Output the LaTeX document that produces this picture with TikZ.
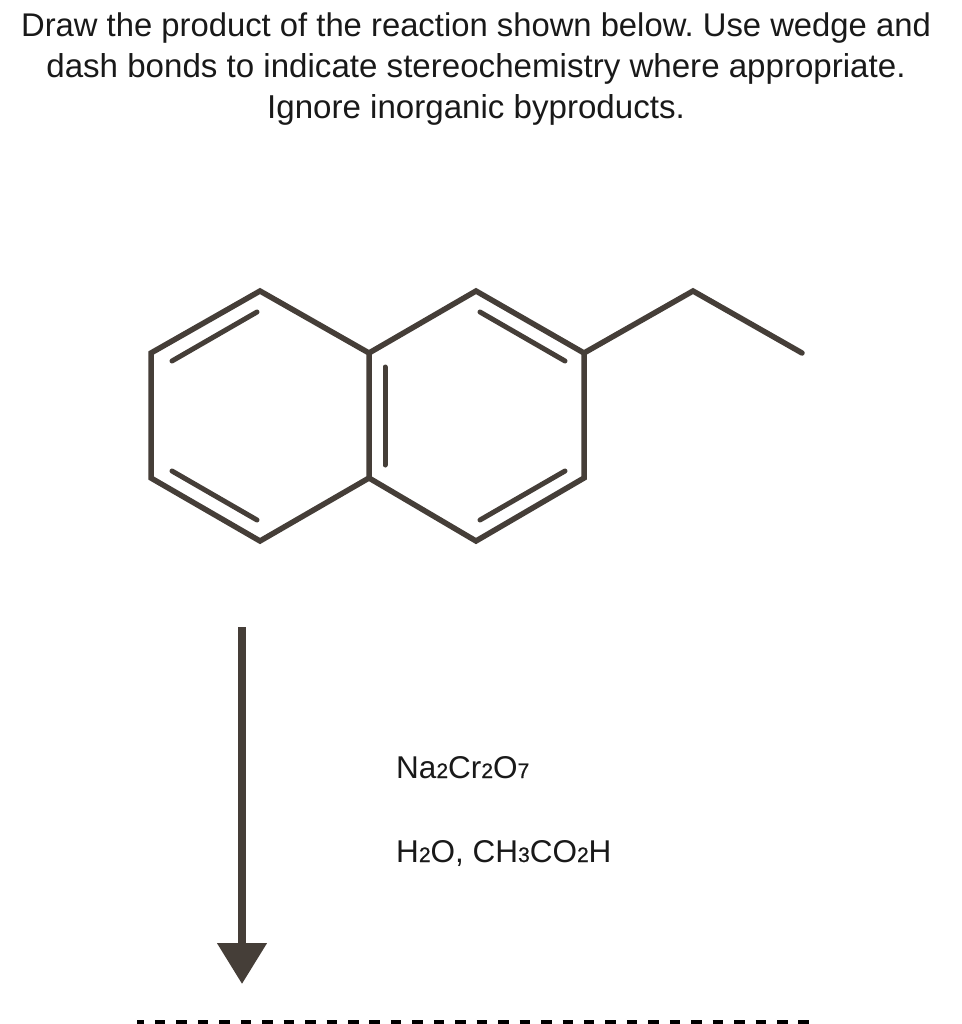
\documentclass[tikz,border=0pt]{standalone}
\usepackage{fontspec}
\setmainfont{Liberation Sans}
\usetikzlibrary{arrows.meta}
\definecolor{bondcol}{HTML}{453E38}
\newcommand{\lowdigit}[1]{{\fontsize{21}{21}\selectfont\addfontfeature{FakeBold=0.6}#1}}
\tikzset{
  bond/.style={draw=bondcol,line width=5.5pt,line join=miter},
  innerbond/.style={draw=bondcol,line width=5pt,line cap=round},
  headline/.style={font=\fontsize{33.1}{41}\selectfont\frenchspacing,text=black!90,align=center},
  reagent/.style={font=\fontsize{31.5}{36}\selectfont,text=black!90,anchor=base west,inner sep=0pt}
}
\begin{document}
\begin{tikzpicture}[x=1pt,y=-1pt]
  \useasboundingbox (0,0) rectangle (961,1024);
  \node[headline] (title) at (476,69) {{\fontsize{32.8}{41}\selectfont Draw the product of the reaction shown below. Use wedge and}\\
    dash bonds to indicate stereochemistry where appropriate.\\
    Ignore inorganic byproducts.};
  % ring atoms
  \coordinate (1) at (260,291);
  \coordinate (2) at (369,353);
  \coordinate (3) at (369,478);
  \coordinate (4) at (260,541);
  \coordinate (5) at (151,478);
  \coordinate (6) at (151,353);
  \coordinate (7) at (476,291);
  \coordinate (8) at (584,353);
  \coordinate (9) at (584,478);
  \coordinate (10) at (476,541);
  \coordinate (11) at (693,291);
  \coordinate (12) at (802,353);
  \draw[bond] (6) -- (1) -- (2) -- (3) -- (4) -- (5) -- cycle;
  \draw[bond] (2) -- (7) -- (8) -- (9) -- (10) -- (3);
  \draw[bond,line cap=round] (8) -- (11) -- (12);
  % inner lines of the double bonds
  \coordinate (a1) at (172,361);
  \coordinate (a2) at (257,312);
  \coordinate (b1) at (172,471);
  \coordinate (b2) at (257,520);
  \coordinate (c1) at (385,367);
  \coordinate (c2) at (385,465);
  \coordinate (d1) at (480,312);
  \coordinate (d2) at (565,361);
  \coordinate (e1) at (480,520);
  \coordinate (e2) at (565,471);
  \draw[innerbond] (a1) -- (a2);
  \draw[innerbond] (b1) -- (b2);
  \draw[innerbond] (c1) -- (c2);
  \draw[innerbond] (d1) -- (d2);
  \draw[innerbond] (e1) -- (e2);
  % reaction arrow
  \coordinate (top) at (242,627);
  \coordinate (tip) at (242,984);
  \draw[draw=bondcol,fill=bondcol,line width=8pt,-{Triangle[length=41pt,width=48pt]}] (top) -- (tip);
  \node[reagent] (oxidant) at (396,778) {Na\lowdigit{2}Cr\lowdigit{2}O\lowdigit{7}};
  \node[reagent] (solvent) at (396,862) {H\lowdigit{2}O, CH\lowdigit{3}CO\lowdigit{2}H};
  % answer box, cut off by the page
  \coordinate (left) at (137,1024);
  \coordinate (right) at (810,1024);
  \draw[black,line width=8pt,dash pattern=on 10.5pt off 10.95pt,dash phase=3.5pt] (left) -- (right);
\end{tikzpicture}
\end{document}
